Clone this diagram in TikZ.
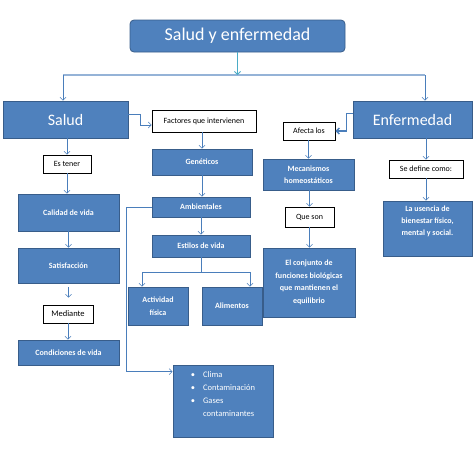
\documentclass[tikz,border=0pt]{standalone}
\usepackage{fontspec}
\setmainfont{Carlito}
\usepackage{tikz}
\usetikzlibrary{positioning, arrows.meta, calc}

\definecolor{boxblue}{RGB}{79,129,189}
\definecolor{boxborder}{RGB}{56,93,138}
\definecolor{arrowblue}{RGB}{74,126,187}
\definecolor{barblue}{RGB}{149,179,215}
\definecolor{tealarrow}{RGB}{75,172,198}

\begin{document}
\begin{tikzpicture}[x=1pt, y=-1pt,
    >={Straight Barb[length=3pt, width=6pt]},
    bluebox/.style={draw=boxborder, fill=boxblue, text=white, line width=0.8pt,
        font=\bfseries\fontsize{8}{12.5}\selectfont, align=center, inner sep=1pt},
    bigbox/.style={bluebox, font=\fontsize{16}{18}\selectfont},
    whitebox/.style={draw=black, fill=white, line width=0.7pt,
        font=\fontsize{8}{10}\selectfont, inner sep=1pt},
    conn/.style={->, draw=arrowblue, line width=0.6pt}]
    \useasboundingbox (0,0) rectangle (474,459);

    % Titulo
    \node[bigbox, rounded corners=4pt, font=\fontsize{18}{20}\selectfont,
          minimum width=215pt, minimum height=32pt] (titulo) at (237.5,36) {Salud y enfermedad};
    \coordinate (izq) at (63,75);
    \coordinate (der) at (425,75);
    \draw[barblue, line width=1.5pt] (izq) -- (der);
    \draw[->, tealarrow, line width=0.8pt] (titulo.south) -- (titulo.south |- izq);

    % Nivel principal
    \node[bigbox, minimum width=125pt, minimum height=37pt] (salud) at (65.5,119.5) {Salud};
    \node[bigbox, minimum width=119pt, minimum height=37pt] (enf) at (412.5,119.5) {Enfermedad};
    \node[whitebox, minimum width=104pt, minimum height=22pt] (factores) at (204,121) {Factores que intervienen};
    \node[whitebox, minimum width=52pt, minimum height=18pt] (afecta) at (309,131) {Afecta los};

    % Rama salud
    \node[whitebox, minimum width=48pt, minimum height=18pt] (tener) at (67,164) {Es tener};
    \node[bluebox, minimum width=101pt, minimum height=37pt] (calidad) at (68.5,212.5) {Calidad de vida};
    \node[bluebox, minimum width=101pt, minimum height=35pt] (satisf) at (68.5,265.5) {Satisfacción};
    \node[whitebox, font=\fontsize{8.5}{10}\selectfont, minimum width=50pt, minimum height=18pt] (mediante) at (68,314) {Mediante};
    \node[bluebox, minimum width=101pt, minimum height=25pt] (condic) at (68.5,352.5) {Condiciones de vida};

    % Factores
    \node[bluebox, minimum width=100pt, minimum height=26pt] (geneticos) at (202,162) {Genéticos};
    \node[bluebox, minimum width=98pt, minimum height=20pt] (ambient) at (201,207) {Ambientales};
    \node[bluebox, minimum width=98pt, minimum height=22pt] (estilos) at (201,246) {Estilos de vida};
    \node[bluebox, minimum width=60pt, minimum height=38pt] (actividad) at (158,306) {Actividad\\física};
    \node[bluebox, minimum width=60pt, minimum height=38pt] (alimentos) at (232,306) {Alimentos};
    \node[bluebox, font=\fontsize{8.5}{13}\selectfont, minimum width=100pt, minimum height=72pt] (clima) at (223,401)
        {\begin{tabular}{@{}l@{\hspace{8pt}}l@{}}
         \textbullet & Clima\\
         \textbullet & Contaminación\\
         \textbullet & Gases\\
                     & contaminantes\\[14pt]
         \end{tabular}};

    % Rama enfermedad
    \node[bluebox, minimum width=91pt, minimum height=31pt] (mecan) at (308.5,174.5) {Mecanismos\\homeostáticos};
    \node[whitebox, minimum width=49pt, minimum height=20pt] (queson) at (309.5,217) {Que son};
    \node[bluebox, minimum width=92pt, minimum height=69pt] (conjunto) at (309,282.5)
        {El conjunto de\\funciones biológicas\\que mantienen el\\equilibrio};
    \node[whitebox, minimum width=74pt, minimum height=18pt] (define) at (426,169) {Se define como:};
    \node[bluebox, font=\bfseries\fontsize{8}{12}\selectfont, minimum width=89pt, minimum height=55pt] (usencia) at (427.5,228.5)
        {La usencia de\\bienestar físico,\\mental y social.\\[3pt]};

    % Conectores
    \draw[conn] (izq) -- (izq |- salud.north);
    \draw[conn] (der) -- (der |- enf.north);
    \draw[conn] ([yshift=5pt]salud.east) -- ++(12,0) |- ([yshift=-4pt]factores.west);
    \draw[conn, line width=1.4pt] ([yshift=6pt]enf.west) -- ++(-6,0) |- (afecta.east);
    \draw[conn] (tener.north |- salud.south) -- (tener.north);
    \draw[conn] (tener.south) -- (tener.south |- calidad.north);
    \draw[conn] (calidad) -- (satisf);
    \draw[conn, shorten <=4pt, shorten >=7pt] (satisf.south) -- (satisf.south |- mediante.north);
    \draw[conn] (mediante) -- (mediante |- condic.north);
    \draw[conn] (factores.south -| geneticos) -- (geneticos.north);
    \draw[conn] (geneticos) -- (geneticos |- ambient.north);
    \draw[conn] (ambient) -- (estilos);
    \coordinate (reparto) at (201,272);
    \draw[arrowblue, line width=0.6pt] (estilos.south) -- (reparto);
    \draw[conn] (reparto) -| ([xshift=-16pt]actividad.north);
    \draw[conn] (reparto) -| ([xshift=18pt]alimentos.north);
    \draw[conn] (ambient.west) -- ++(-25,0) |- ([yshift=-7pt]clima.north west);
    \draw[conn] (afecta.south -| mecan) -- (mecan.north);
    \draw[conn] (mecan.south -| queson) -- (queson.north);
    \draw[conn] (queson) -- (queson |- conjunto.north);
    \draw[conn] (define.north |- enf.south) -- (define.north);
    \draw[conn] (define.south) -- (define.south |- usencia.north);
\end{tikzpicture}
\end{document}
